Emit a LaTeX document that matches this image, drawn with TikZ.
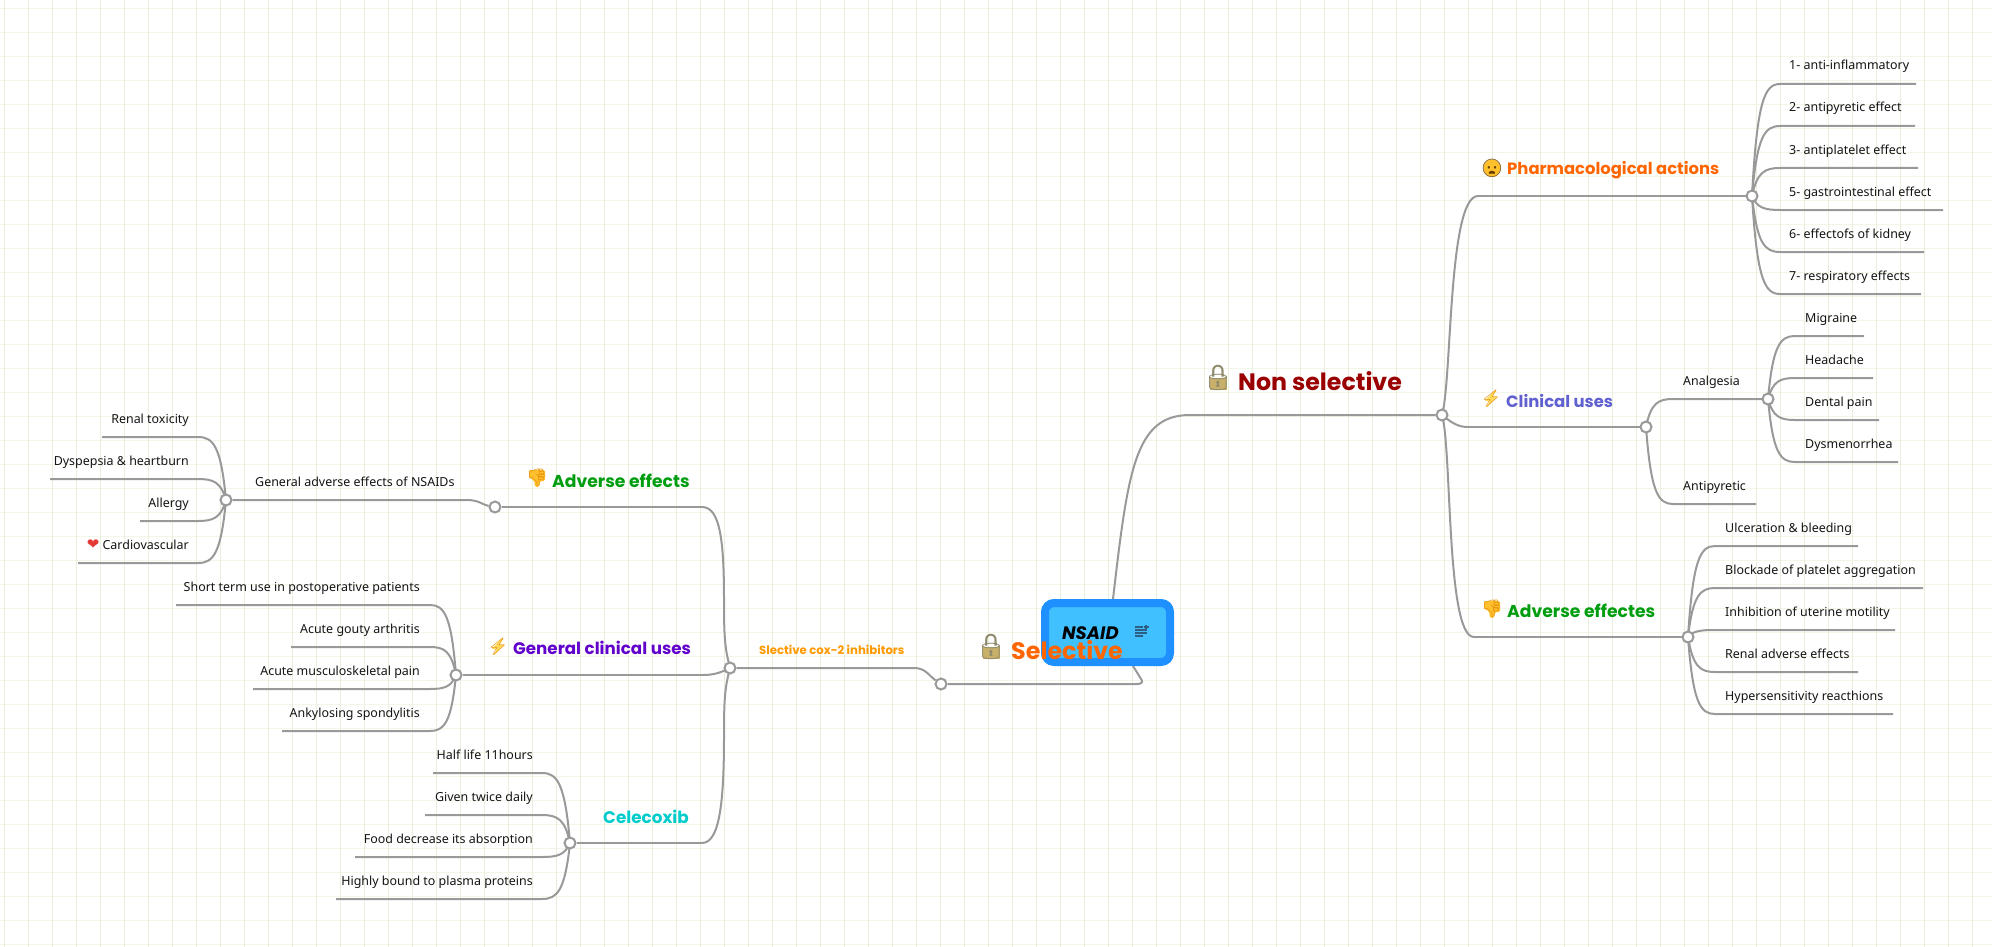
\documentclass[tikz,border=0pt]{standalone}
\usepackage{fontspec}
\usetikzlibrary{calc}
\setmainfont{Noto Sans}
\newfontfamily\titlef{Poppins}
\newfontfamily\emo{Noto Emoji}
\newfontfamily\djv{DejaVu Sans}
\definecolor{linegray}{HTML}{999999}
\definecolor{gridv}{HTML}{E8F0DC}
\definecolor{gridh}{HTML}{F1F6E8}
\definecolor{rootin}{HTML}{40C0FF}
\definecolor{rootout}{HTML}{1E90FF}
\definecolor{iconblue}{HTML}{2D5F85}
\definecolor{orgtitle}{HTML}{FF6600}
\definecolor{redtitle}{HTML}{9B0000}
\definecolor{bluetitle}{HTML}{6060D0}
\definecolor{greentitle}{HTML}{009E0F}
\definecolor{purpletitle}{HTML}{6200CC}
\definecolor{cyantitle}{HTML}{00CCCC}
\definecolor{ambertitle}{HTML}{FF9900}
\definecolor{emoorange}{HTML}{E8930C}
\definecolor{emofill}{HTML}{FFC02E}
\definecolor{boltfill}{HTML}{FFD95A}
\definecolor{facedark}{HTML}{6B3F00}
\definecolor{lockgold}{HTML}{C9B06A}
\definecolor{lockline}{HTML}{8F8A6C}
\definecolor{heartred}{HTML}{E53935}
\pgfdeclarelayer{gridlayer}
\pgfdeclarelayer{lines}
\pgfsetlayers{gridlayer,lines,main}
\tikzset{
  link/.style={draw=linegray,line width=2pt},
  hubnode/.style={circle,draw=linegray,fill=white,line width=2pt,minimum size=11pt,inner sep=0pt},
  rootbox/.style={rectangle,draw=rootout,fill=rootin,line width=8pt,rounded corners=9pt,minimum width=125pt,minimum height=59pt},
  leaftext/.style={inner sep=0pt,text=black!92,font=\fontsize{12.45}{15}\selectfont},
  titletext/.style={inner sep=0pt,anchor=base west,font=\titlef\bfseries},
  emojitext/.style={inner sep=0pt,anchor=center}
}
\newcommand{\hubat}[3]{\node[hubnode] (#1) at (#2,#3) {};\def\hn{#1}\def\hx{#2}\def\hy{#3}}
\newcommand{\curve}[4]{% name, sx, ex, y
  \coordinate (#1s) at (#2,#4);\coordinate (#1e) at (#3,#4);
  \pgfmathsetmacro\ddx{#2-\hx}\pgfmathsetmacro\ddy{#4-\hy}
  \begin{pgfonlayer}{lines}
  \draw[link] (\hn.center) .. controls +({0.18*\ddx},{0.85*\ddy}) and +({-0.55*\ddx},0) .. (#1s) -- (#1e);
  \end{pgfonlayer}}
\newcommand{\leafR}[6][10]{% name, sx, ex, y, text
  \curve{#2}{#3}{#4}{#5}
  \node[leaftext,anchor=base west] (#2) at ($(#2s)+(#1,-14)$) {#6};}
\newcommand{\leafL}[6][9]{%
  \curve{#2}{#3}{#4}{#5}
  \node[leaftext,anchor=base east] (#2) at ($(#2s)+(-#1,-14)$) {#6};}
% coloured emoji: a filled shape under the glyph
\newcommand{\lockemo}[3]{% name,x,y
  \fill[lockgold] (#2-8.5,#3-0.5) rectangle (#2+8.5,#3+11.5);
  \node[emojitext,text=lockline,font=\emo\fontsize{25}{27}\selectfont] (#1) at (#2,#3) {🔒};}
\newcommand{\thumbemo}[3]{%
  \fill[emofill,rounded corners=1.5pt] (#2-8,#3-8) -- (#2+8,#3-8) -- (#2+8,#3+3) -- (#2+3,#3+3) -- (#2+2,#3+9) -- (#2-2,#3+9) -- (#2-3,#3+2) -- (#2-8,#3) -- cycle;
  \node[emojitext,text=emoorange,font=\emo\fontsize{17}{19}\selectfont] (#1) at (#2,#3) {👎};}
\newcommand{\boltemo}[3]{%
  \fill[boltfill] (#2+3,#3-8) -- (#2-6,#3+2) -- (#2-1,#3+2) -- (#2-4,#3+8.5) -- (#2+6,#3-2) -- (#2+1,#3-2) -- (#2+5,#3-8) -- cycle;
  \node[emojitext,text=emoorange,font=\emo\fontsize{17}{19}\selectfont] (#1) at (#2,#3) {⚡};}
\begin{document}
\begin{tikzpicture}[x=1pt,y=-1pt]
\useasboundingbox (0,0) rectangle (1992,947);
\begin{pgfonlayer}{gridlayer}
\fill[white] (0,0) rectangle (1992,947);
\foreach \k in {0,...,39} \draw[gridh,line width=1pt] (0,{8.5+24*\k}) -- (1992,{8.5+24*\k});
\foreach \k in {0,...,82} \draw[gridv,line width=1pt] ({4.5+24*\k},0) -- ({4.5+24*\k},947);
\end{pgfonlayer}

% root
\node[rootbox] (root) at (1107.5,632.5) {};
\node[inner sep=0pt,anchor=base west,font=\titlef\bfseries\itshape\fontsize{18}{20}\selectfont] (rootlabel) at (1062,639) {NSAID};
\coordinate (ic1) at (1135,627);
\foreach \yy/\xx in {0/8,3/12,6/12,9/8} \draw[iconblue,line width=1.4pt] ($(ic1)+(0,\yy)$) -- ++(\xx,0);
\draw[iconblue,line width=1.2pt] ($(ic1)+(8.5,0)$) -- ++(5,0) ($(ic1)+(11,-2.5)$) -- ++(0,5);

% hubs without leaves
\node[hubnode] (H1) at (1442,415) {};
\node[hubnode] (S1) at (941,684) {};
\node[hubnode] (S2) at (730,668) {};
\coordinate (nsa) at (1190,415);
\coordinate (sela) at (1141.7,680);
\coordinate (selb) at (1137,684);
\coordinate (sb) at (914,668);
\coordinate (pa) at (1478,196);
\coordinate (ca) at (1468,427);
\coordinate (aa) at (1474,637);
\coordinate (la) at (724,600);
\coordinate (lb) at (702,507);
\coordinate (lc) at (703,675);
\coordinate (ld) at (724,736);
\coordinate (le) at (702,843);
\coordinate (ga) at (467,500);

% titles
\node[titletext,text=redtitle,font=\titlef\bfseries\fontsize{23.7}{25}\selectfont] (tNon) at (1238,390) {Non selective};
\lockemo{eNon}{1218}{378}
\node[titletext,text=orgtitle,font=\titlef\bfseries\fontsize{23.8}{25}\selectfont] (tSel) at (1011,659) {Selective};
\lockemo{eSel}{991}{647}
\node[titletext,text=orgtitle,font=\titlef\bfseries\fontsize{16.4}{20}\selectfont] (tPh) at (1507,175) {Pharmacological actions};
\fill[emofill] (1492,168) circle (8.5);
\node[emojitext,text=facedark,font=\emo\fontsize{18}{20}\selectfont] (ePh) at (1492,168) {😦};
\node[titletext,text=bluetitle,font=\titlef\bfseries\fontsize{16.4}{20}\selectfont] (tCl) at (1506,407) {Clinical uses};
\boltemo{eCl}{1491}{399}
\node[titletext,text=greentitle,font=\titlef\bfseries\fontsize{17.2}{20}\selectfont] (tAe) at (1507,617) {Adverse effectes};
\thumbemo{eAe}{1492}{609}
\node[titletext,text=greentitle,font=\titlef\bfseries\fontsize{17.2}{20}\selectfont] (tAd) at (552,487) {Adverse effects};
\thumbemo{eAd}{537}{478}
\node[titletext,text=purpletitle,font=\titlef\bfseries\fontsize{16.7}{20}\selectfont] (tGe) at (513,654) {General clinical uses};
\boltemo{eGe}{498}{647}
\node[titletext,text=cyantitle,font=\titlef\bfseries\fontsize{16.8}{20}\selectfont] (tCe) at (603,823) {Celecoxib};
\node[titletext,text=ambertitle,font=\titlef\bfseries\fontsize{11.7}{14}\selectfont] (tSc) at (759,654) {Slective cox-2 inhibitors};

% main connectors
\begin{pgfonlayer}{lines}
\draw[link] ([xshift=5.5pt]root.north) .. controls (1128,470) and (1135,415) .. (nsa) -- (H1);
\draw[link,rounded corners=0pt] ([xshift=25.5pt]root.south) -- (sela) .. controls +(1.5,3) and +(3,0) .. (selb) -- (S1);
\draw[link] (S1) .. controls +(-12,-8) and +(12,0) .. (sb) -- (S2);
\draw[link] (H1.center) .. controls +(10,-35) and +(-30,0) .. (pa);
\draw[link] (H1.center) .. controls +(10,8) and +(-10,0) .. (ca);
\draw[link] (H1.center) .. controls +(10,35) and +(-28,0) .. (aa);
\draw[link] (S2.center) .. controls +(-5,-20) and +(0,40) .. (la) .. controls +(0,-60) and +(18,0) .. (lb);
\draw[link] (S2.center) .. controls +(-10,5) and +(10,0) .. (lc);
\draw[link] (S2.center) .. controls +(-5,20) and +(0,-40) .. (ld) .. controls +(0,64) and +(18,0) .. (le);
\end{pgfonlayer}

% Pharmacological actions
\hubat{H2}{1752}{196}
\begin{pgfonlayer}{lines}\draw[link] (pa) -- (H2);\end{pgfonlayer}
\leafR[9]{p1}{1780}{1916}{84}{1- anti-inflammatory}
\leafR[9]{p2}{1780}{1915}{126}{2- antipyretic effect}
\leafR[9]{p3}{1780}{1918}{168}{3- antiplatelet effect}
\leafR[9]{p4}{1780}{1943}{210}{5- gastrointestinal effect}
\leafR[9]{p5}{1780}{1924}{252}{6- effectofs of kidney}
\leafR[9]{p6}{1780}{1921}{294}{7- respiratory effects}

% Clinical uses
\hubat{H3}{1646}{427}
\begin{pgfonlayer}{lines}\draw[link] (ca) -- (H3);\end{pgfonlayer}
\leafR{an}{1673}{1768}{399}{Analgesia}
\leafR{ap}{1673}{1756}{504}{Antipyretic}
\hubat{H5}{1768}{399}
\leafR{m1}{1795}{1864}{336}{Migraine}
\leafR{m2}{1795}{1873}{378}{Headache}
\leafR{m3}{1795}{1879}{420}{Dental pain}
\leafR{m4}{1795}{1898}{462}{Dysmenorrhea}

% Adverse effectes
\hubat{H4}{1688}{637}
\begin{pgfonlayer}{lines}\draw[link] (aa) -- (H4);\end{pgfonlayer}
\leafR{e1}{1715}{1858}{546}{Ulceration \& bleeding}
\leafR{e2}{1715}{1923}{588}{Blockade of platelet aggregation}
\leafR{e3}{1715}{1895}{630}{Inhibition of uterine motility}
\leafR{e4}{1715}{1858}{672}{Renal adverse effects}
\leafR{e5}{1715}{1893}{714}{Hypersensitivity reacthions}

% Adverse effects (left)
\node[hubnode] (H6) at (495,507) {};
\hubat{A}{226}{500}
\node[leaftext,anchor=base west] (gen) at (255,486) {General adverse effects of NSAIDs};
\begin{pgfonlayer}{lines}
\draw[link] (lb) -- (H6);
\draw[link] (H6) .. controls +(-12,-2) and +(12,0) .. (ga) -- (A);
\end{pgfonlayer}
\leafL{a1}{198}{102}{437}{Renal toxicity}
\leafL{a2}{198}{50}{479}{Dyspepsia \& heartburn}
\leafL{a3}{198}{140}{521}{Allergy}
\leafL{a4}{198}{78}{563}{{\djv\color{heartred}\fontsize{15}{15}\selectfont ❤} Cardiovascular}

% General clinical uses
\hubat{G}{456}{675}
\begin{pgfonlayer}{lines}\draw[link] (lc) -- (G);\end{pgfonlayer}
\leafL[10]{g1}{430}{176}{605}{Short term use in postoperative patients}
\leafL[10]{g2}{430}{291}{647}{Acute gouty arthritis}
\leafL[10]{g3}{430}{253}{689}{Acute musculoskeletal pain}
\leafL[10]{g4}{430}{282}{731}{Ankylosing spondylitis}

% Celecoxib
\hubat{C}{570}{843}
\begin{pgfonlayer}{lines}\draw[link] (le) -- (C);\end{pgfonlayer}
\leafL{c1}{542}{433}{773}{Half life 11hours}
\leafL{c2}{542}{425}{815}{Given twice daily}
\leafL{c3}{542}{355}{857}{Food decrease its absorption}
\leafL{c4}{542}{336}{899}{Highly bound to plasma proteins}
\end{tikzpicture}
\end{document}
